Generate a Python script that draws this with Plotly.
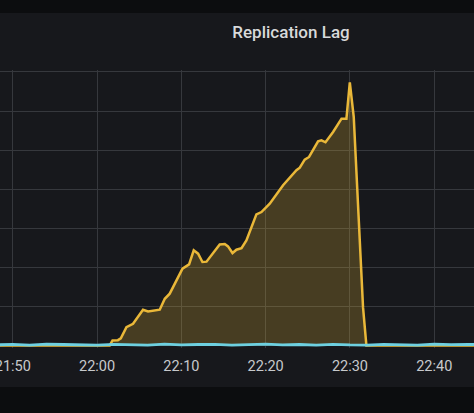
import plotly.graph_objects as go

day = "2023-05-12 "

# Replication lag of the lagging replica (yellow)
lag_times = [
    "21:48:00", "22:01:00", "22:01:30", "22:01:50", "22:02:28", "22:02:49",
    "22:03:29", "22:04:16", "22:05:27", "22:06:03", "22:07:26", "22:08:02",
    "22:08:37", "22:10:08", "22:10:55", "22:11:28", "22:11:59", "22:12:30",
    "22:12:59", "22:14:33", "22:15:09", "22:15:32", "22:16:04", "22:16:32",
    "22:17:08", "22:17:43", "22:18:54", "22:19:30", "22:20:06", "22:20:29",
    "22:22:04", "22:22:51", "22:23:39", "22:24:03", "22:24:38", "22:25:09",
    "22:26:13", "22:26:37", "22:27:06", "22:28:00", "22:29:00", "22:29:35",
    "22:29:59", "22:30:27", "22:31:33", "22:31:57", "22:46:00",
]
lag_values = [
    0, 0, 0, 2.6, 2.7, 3.6,
    9.4, 11.1, 18.3, 17.4, 18.3, 23.9,
    26.5, 39.3, 41.5, 48.7, 47.0, 42.7,
    42.9, 51.7, 51.9, 50.7, 47.3, 49.0,
    49.8, 53.8, 67.1, 68.3, 71.2, 72.6,
    82.0, 85.9, 89.7, 91.0, 95.1, 96.5,
    104.5, 105.0, 104.0, 109.3, 116.1, 116.1,
    134.7, 117.0, 19.6, 0, 0,
]

# Healthy replica (teal), stays near zero
ok_times = [
    "21:48:00", "21:50:00", "21:52:00", "21:54:00", "21:56:00", "21:58:00",
    "22:00:00", "22:02:00", "22:04:00", "22:06:00", "22:08:00", "22:10:00",
    "22:12:00", "22:14:00", "22:16:00", "22:18:00", "22:20:00", "22:22:00",
    "22:24:00", "22:26:00", "22:28:00", "22:30:00", "22:32:00", "22:34:00",
    "22:36:00", "22:38:00", "22:40:00", "22:42:00", "22:44:00", "22:46:00",
]
ok_values = [
    0.3, 0.6, 0.2, 0.7, 0.5, 0.3,
    0.2, 0.6, 0.4, 0.2, 0.7, 0.3,
    0.5, 0.6, 0.2, 0.4, 0.7, 0.3,
    0.5, 0.2, 0.6, 0.3, 0.2, 0.6,
    0.3, 0.2, 0.7, 0.4, 0.6, 0.3,
]

panel = "#17181c"
grid = "#36383d"

fig = go.Figure()

fig.add_trace(go.Scatter(
    x=[day + t for t in lag_times],
    y=lag_values,
    mode="lines",
    line=dict(color="#eab839", width=2.5),
    fill="tozeroy",
    fillcolor="rgba(234,184,57,0.23)",
    hoverinfo="skip",
))

fig.add_trace(go.Scatter(
    x=[day + t for t in ok_times],
    y=ok_values,
    mode="lines",
    line=dict(color="#6ed0e0", width=2.8),
    fill="tozeroy",
    fillcolor="rgba(110,208,224,0.25)",
    hoverinfo="skip",
))

# panel background (dark strips above and below)
fig.add_shape(type="rect", xref="paper", yref="paper",
              x0=-0.1, x1=1.1, y0=-0.14, y1=1.205,
              fillcolor=panel, line_width=0, layer="below")

fig.update_layout(
    width=474,
    height=413,
    margin=dict(l=0, r=0, t=70, b=65),
    paper_bgcolor="#0c0d0f",
    plot_bgcolor=panel,
    showlegend=False,
    title=dict(
        text="Replication Lag",
        x=291 / 474, xanchor="center",
        y=1 - 32 / 413, yanchor="middle",
        font=dict(family="Roboto", size=17, color="#d8d9da", weight=500),
    ),
    xaxis=dict(
        type="date",
        range=[day + "21:48:29", day + "22:44:43"],
        dtick=600000,
        tickformat="%H:%M",
        showgrid=True, gridcolor=grid, gridwidth=1,
        zeroline=False, showline=False, ticks="",
        tickfont=dict(family="Roboto", size=14.5, color="#c7c9cc"),
        ticklabelstandoff=7,
        ticklabeloverflow="allow",   # 21:50 is cut at the left edge, as in the screenshot
        automargin=False,
    ),
    yaxis=dict(
        range=[-1.3, 141],
        tick0=0, dtick=20,
        showgrid=True, gridcolor=grid, gridwidth=1,
        zeroline=False, showline=False, ticks="",
        showticklabels=False,
        automargin=False,
    ),
)

# drop the default page margin so the figure sits at the window's corner
fig.write_html("out.html", config={"displayModeBar": False},
               post_script="document.body.style.margin='0';")
